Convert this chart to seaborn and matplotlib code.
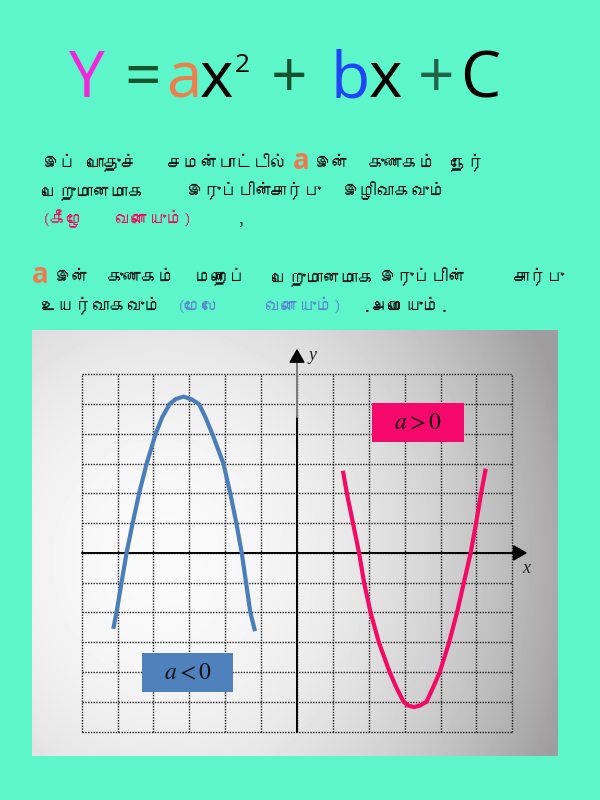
import matplotlib
matplotlib.use('Agg')
import matplotlib.pyplot as plt
import seaborn as sns
import numpy as np
from matplotlib import font_manager
from matplotlib.ft2font import FT2Font
from matplotlib.patches import Rectangle

# ---- data ----
# blue parabola (a < 0)
blue_x = [-5.12, -5.03, -4.89, -4.75, -4.58, -4.40, -4.19, -3.94, -3.76, -3.55, -3.38,
          -3.16, -2.94, -2.73, -2.55, -2.36, -2.05, -1.86, -1.69, -1.54, -1.42, -1.30, -1.17]
blue_y = [-2.55, -2.0, -1.0, 0.0, 1.0, 2.0, 3.0, 4.0, 4.55, 5.0, 5.17,
          5.25, 5.16, 5.0, 4.55, 4.0, 3.0, 2.0, 1.0, 0.0, -1.0, -2.0, -2.63]
# pink parabola (a > 0)
pink_x = [1.28, 1.39, 1.56, 1.73, 1.87, 2.05, 2.28, 2.58, 2.76, 2.97, 3.10, 3.26,
          3.42, 3.61, 3.80, 3.98, 4.24, 4.46, 4.65, 4.84, 4.99, 5.13, 5.26]
pink_y = [2.76, 2.0, 1.0, 0.0, -1.0, -2.0, -3.0, -4.0, -4.5, -5.0, -5.13, -5.18,
          -5.13, -5.0, -4.5, -4.0, -3.0, -2.0, -1.0, 0.0, 1.0, 2.0, 2.83]
grid_ticks = list(range(-6, 7))

box_labels = [r'$a > 0$', r'$a < 0$']

# title pieces: text, left px, colour
title_parts = [('Y', 69, '#f426dc'), ('=', 124, '#17552a'), ('a', 166, '#ee7e4e'),
               ('x', 200, '#000000'), ('+', 271, '#16502c'), ('b', 331, '#2045f5'),
               ('x', 369, '#000000'), ('+', 418, '#236246'), ('C', 460, '#000000')]

# tamil paragraph: (word, left px, baseline px, colour, bold)
tamil_words = [
    ('இப்', 43, 169, '#111111', False), ('பொதுச்', 87, 169, '#111111', False),
    ('சமன்பாட்டில்', 167, 169, '#111111', False), ('இன்', 315, 169, '#111111', False),
    ('குணகம்', 368, 169, '#111111', False), ('நேர்', 450, 169, '#111111', False),
    ('பெறுமானமாக', 42, 197, '#111111', False), ('இருப்பின்', 187, 197, '#111111', False),
    ('சார்பு', 270, 197, '#111111', False), ('இழிவாகவும்', 343, 197, '#111111', False),
    ('(கீழே', 42, 225, '#f00a60', True), ('வளையும்)', 115, 225, '#f00a60', True),
    (',', 237, 225, '#111111', False),
    ('இன்', 55, 283, '#111111', False), ('குணகம்', 107, 283, '#111111', False),
    ('மறைப்', 195, 283, '#111111', False), ('பெறுமானமாக', 272, 283, '#111111', False),
    ('இருப்பின்', 380, 283, '#111111', False), ('சார்பு', 513, 283, '#111111', False),
    ('உயர்வாகவும்', 41, 312, '#111111', False), ('(மேலே', 177, 312, '#5a88d0', True),
    ('வளையும்)', 265, 312, '#5a88d0', True), ('.அமையும்.', 363, 312, '#111111', False),
]
orange_a = [(293, 169), (32, 283)]


def find_tamil_font():
    for f in font_manager.fontManager.ttflist:
        try:
            if 0x0B87 in FT2Font(f.fname).get_charmap():
                return f.name
        except Exception:
            continue
    return None


sns.set_theme(style='white')
plt.rcParams['font.family'] = ['Noto Sans', 'DejaVu Sans']
plt.rcParams['mathtext.fontset'] = 'stix'

tamil_font = find_tamil_font()
tamil_family = [tamil_font, 'Noto Sans', 'DejaVu Sans'] if tamil_font else ['Noto Sans', 'DejaVu Sans']

W, H = 600, 800
fig = plt.figure(figsize=(6, 8), dpi=100, facecolor='#5cf6ca')


def put(x, y, s, **kw):
    fig.text(x / W, 1 - y / H, s, ha='left', va='baseline', **kw)


# title
for txt, xp, col in title_parts:
    put(xp, 97, txt, color=col, fontsize=46, family=['Open Sans', 'DejaVu Sans'])
put(235, 72, '2', color='#000000', fontsize=19, family=['Open Sans', 'DejaVu Sans'])

# tamil text
for word, xp, yp, col, bold in tamil_words:
    put(xp, yp, word, color=col, fontsize=12.5, family=tamil_family,
        fontweight='bold' if bold else 'normal')
for xp, yp in orange_a:
    put(xp, yp, 'a', color='#f07a50', fontsize=20, fontweight='bold',
        family=['Open Sans', 'DejaVu Sans'])

# gray gradient panel
px0, px1, py0, py1 = 32, 558, 330, 756
bg = fig.add_axes([px0 / W, 1 - py1 / H, (px1 - px0) / W, (py1 - py0) / H], zorder=0)
gx, gy = np.meshgrid(np.arange(px0, px1), np.arange(py0, py1))
r2 = ((gx - 160) / 400.0) ** 2 + ((gy - 560) / 450.0) ** 2
shade = np.clip(0.98 - 0.32 * r2, 0.62, 1.0)
bg.imshow(shade, cmap='gray', vmin=0, vmax=1, aspect='auto', interpolation='bilinear')
bg.axis('off')

# main plot axes over the grid
gl, gr, gt, gb = 81.7, 512.3, 374.3, 731.5
ax = fig.add_axes([gl / W, 1 - gb / H, (gr - gl) / W, (gb - gt) / H], zorder=1)
ax.patch.set_alpha(0)
ax.set_xlim(-6, 6)
ax.set_ylim(-6, 6)
for s in ax.spines.values():
    s.set_visible(False)
ax.set_xticks(grid_ticks)
ax.set_yticks(grid_ticks)
ax.tick_params(length=0, labelbottom=False, labelleft=False)
for t in grid_ticks:
    ax.axvline(t, color='#1e1e1e', lw=1.0, ls=(0, (1, 1)), clip_on=False, zorder=1)
    ax.axhline(t, color='#1e1e1e', lw=1.0, ls=(0, (1, 1)), clip_on=False, zorder=1)

# axes with arrows
ax.plot([-6, 6.2], [0, 0], color='black', lw=1.4, clip_on=False, zorder=2)
ax.annotate('', xy=(6.42, 0), xytext=(6.0, 0),
            arrowprops=dict(arrowstyle='-|>,head_length=0.7,head_width=0.4', color='black',
                            lw=1.4, shrinkA=0, shrinkB=0),
            annotation_clip=False, zorder=3)
ax.plot([0, 0], [-6, 4.57], color='black', lw=1.4, clip_on=False, zorder=2)
ax.plot([0, 0], [4.57, 6.6], color='#7a7a7a', lw=1.4, clip_on=False, zorder=2)
ax.annotate('', xy=(0, 6.86), xytext=(0, 6.5),
            arrowprops=dict(arrowstyle='-|>,head_length=0.7,head_width=0.4', color='black',
                            lw=1.2, shrinkA=0, shrinkB=0),
            annotation_clip=False, zorder=3)
ax.text(6.38, -0.52, 'x', fontsize=13, style='italic', family='Liberation Serif',
        ha='center', va='center', color='#222222')
ax.text(0.44, 6.62, 'y', fontsize=13, style='italic', family='Liberation Serif',
        ha='center', va='center', color='#222222')

# parabolas
sns.lineplot(x=blue_x, y=blue_y, ax=ax, color='#4a7ebb', lw=3.0, sort=False,
             estimator=None, zorder=4)
sns.lineplot(x=pink_x, y=pink_y, ax=ax, color='#f20a66', lw=3.0, sort=False,
             estimator=None, zorder=4)
for ln in ax.lines[-2:]:
    ln.set_solid_joinstyle('round')
    ln.set_solid_capstyle('butt')

# label boxes
ax.add_patch(Rectangle((2.10, 3.73), 2.56, 1.30, fc='#f5086c', ec='none', zorder=5))
ax.text(3.38, 4.35, box_labels[0], fontsize=17, ha='center', va='center', color='#111111', zorder=6)
ax.add_patch(Rectangle((-4.33, -4.67), 2.56, 1.30, fc='#4f81bd', ec='none', zorder=5))
ax.text(-3.05, -4.05, box_labels[1], fontsize=17, ha='center', va='center', color='#111111', zorder=6)

fig.savefig('out.png', dpi=100, facecolor=fig.get_facecolor())
